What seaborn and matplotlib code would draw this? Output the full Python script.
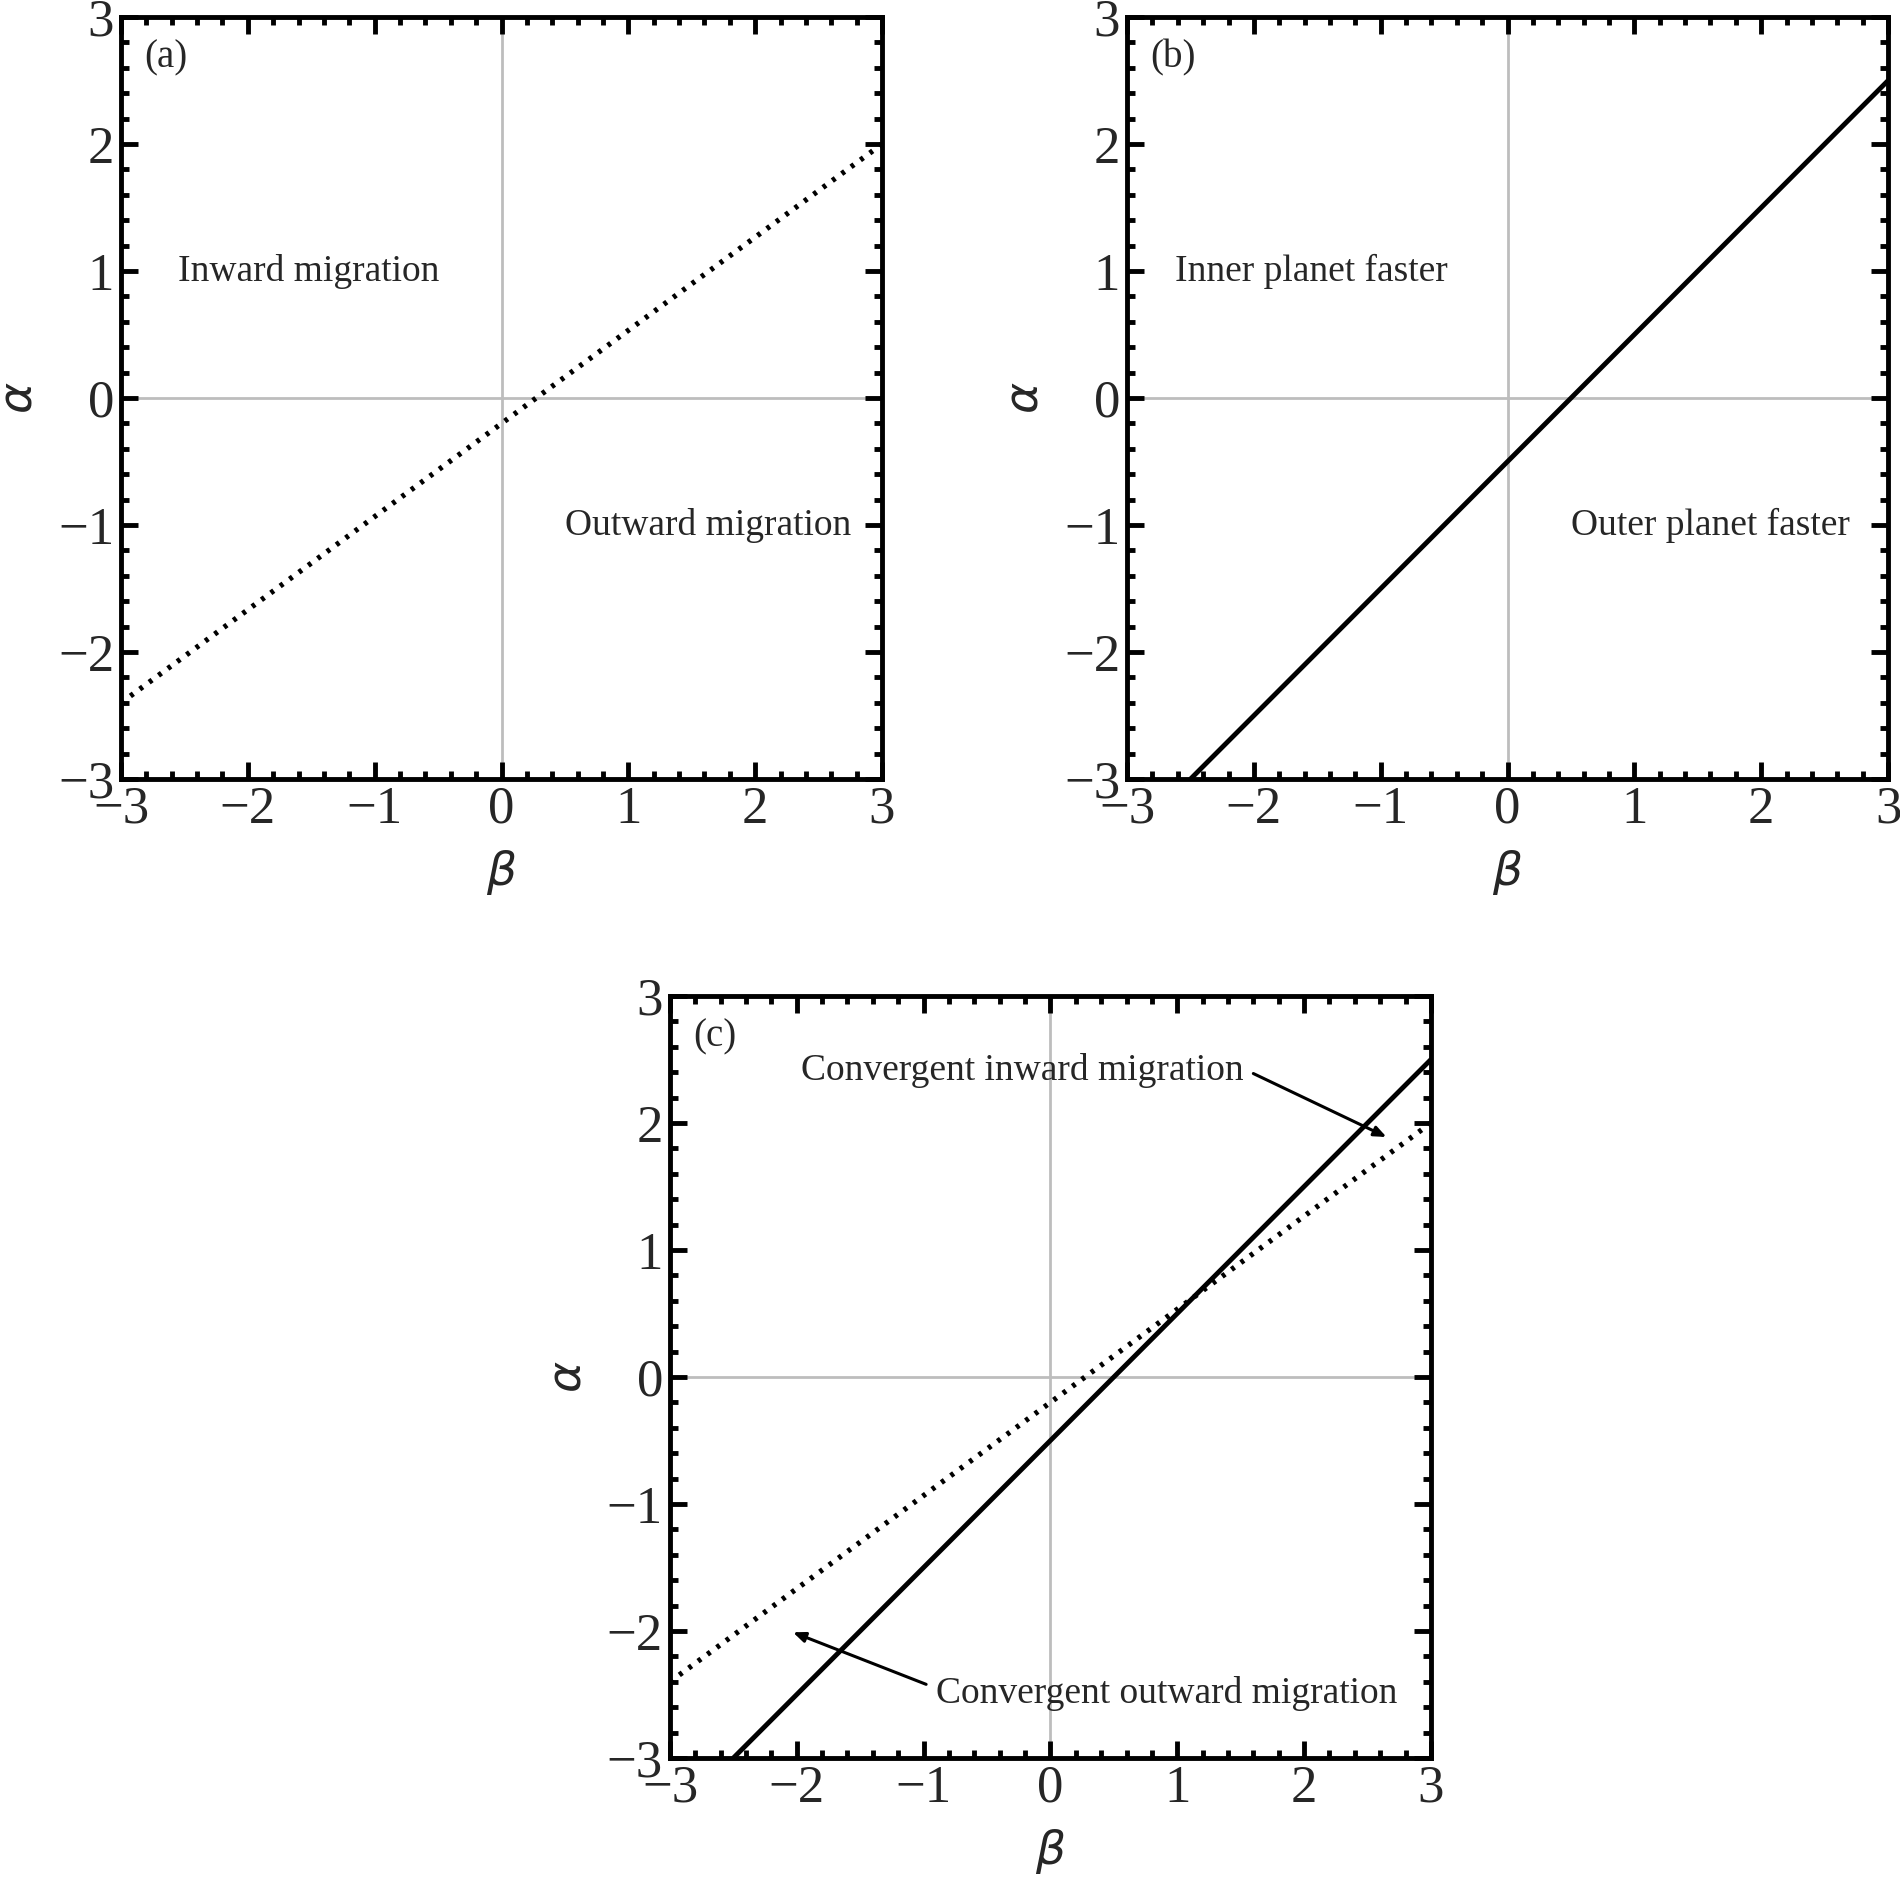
import numpy as np
import pandas as pd
import seaborn as sns
import matplotlib.pyplot as plt
from matplotlib.ticker import MultipleLocator

# Boundary lines in the (beta, alpha) plane
beta_ends = [-3.0, 3.0]
alpha_migration = [-2.4, 2.0]      # dotted: inward / outward migration boundary
beta_speed = [-2.5, 3.0]
alpha_speed = [-3.0, 2.5]          # solid: inner / outer planet faster boundary

panel_tags = ["(a)", "(b)", "(c)"]
region_text_a = ["Inward migration", "Outward migration"]
region_text_b = ["Inner planet faster", "Outer planet faster"]
region_text_c = ["Convergent inward migration", "Convergent outward migration"]

sns.set_theme(style="ticks")
plt.rcParams["font.family"] = ["Liberation Serif", "DejaVu Serif"]
plt.rcParams["axes.unicode_minus"] = True

df_mig = pd.DataFrame({"beta": beta_ends, "alpha": alpha_migration})
df_spd = pd.DataFrame({"beta": beta_speed, "alpha": alpha_speed})

fig = plt.figure(figsize=(19, 18.79), dpi=100)
ax_a = fig.add_axes([0.0637, 0.5854, 0.4005, 0.4055])
ax_b = fig.add_axes([0.5932, 0.5854, 0.4005, 0.4055])
ax_c = fig.add_axes([0.3526, 0.0644, 0.4005, 0.4055])


def style_axes(ax, tag):
    ax.set_xlim(-3, 3)
    ax.set_ylim(-3, 3)
    ax.axhline(0, color="#bdbdbd", lw=2, zorder=0)
    ax.axvline(0, color="#bdbdbd", lw=2, zorder=0)
    ax.xaxis.set_major_locator(MultipleLocator(1))
    ax.yaxis.set_major_locator(MultipleLocator(1))
    ax.xaxis.set_minor_locator(MultipleLocator(0.2))
    ax.yaxis.set_minor_locator(MultipleLocator(0.2))
    ax.tick_params(which="both", direction="in", top=True, right=True,
                   color="black", width=3.5)
    ax.tick_params(which="major", length=12, labelsize=38, pad=5)
    ax.tick_params(which="minor", length=6)
    for s in ax.spines.values():
        s.set_linewidth(3.5)
        s.set_color("black")
    ax.set_xlabel(r"$\beta$", fontsize=34, family="DejaVu Sans", labelpad=10)
    ax.set_ylabel(r"$\alpha$", fontsize=34, family="DejaVu Sans", labelpad=12)
    ax.text(0.03, 0.946, tag, transform=ax.transAxes, fontsize=28,
            ha="left", va="center")


def dotted(ax):
    sns.lineplot(data=df_mig, x="beta", y="alpha", ax=ax, color="black",
                 lw=3.8, linestyle=(0, (0.7, 1.5)), dash_capstyle="butt")


def solid(ax):
    sns.lineplot(data=df_spd, x="beta", y="alpha", ax=ax, color="black", lw=3.5)


# (a)
dotted(ax_a)
style_axes(ax_a, panel_tags[0])
ax_a.text(-2.55, 1.0, region_text_a[0], fontsize=27, va="center")
ax_a.text(0.5, -1.0, region_text_a[1], fontsize=27, va="center")

# (b)
solid(ax_b)
style_axes(ax_b, panel_tags[1])
ax_b.text(-2.62, 1.0, region_text_b[0], fontsize=27, va="center")
ax_b.text(0.5, -1.0, region_text_b[1], fontsize=27, va="center")

# (c)
dotted(ax_c)
solid(ax_c)
style_axes(ax_c, panel_tags[2])
ax_c.text(-1.97, 2.41, region_text_c[0], fontsize=27, va="center")
ax_c.text(-0.9, -2.49, region_text_c[1], fontsize=27, va="center")
arrow = dict(arrowstyle="-|>,head_length=0.6,head_width=0.25", color="black",
             lw=2.2, shrinkA=0, shrinkB=0)
ax_c.annotate("", xy=(2.65, 1.89), xytext=(1.6, 2.39), arrowprops=arrow)
ax_c.annotate("", xy=(-2.03, -2.01), xytext=(-0.98, -2.42), arrowprops=arrow)

fig.savefig("out.png", dpi=100)
